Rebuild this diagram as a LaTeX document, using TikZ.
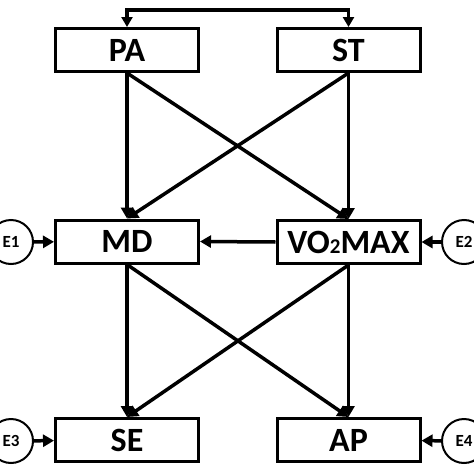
\documentclass[tikz,border=0pt]{standalone}
\usepackage{fontspec}
\setmainfont{Carlito}
\usetikzlibrary{arrows.meta}
\begin{document}
\begin{tikzpicture}[x=1pt,y=1pt,
  varbox/.style={draw,line width=3pt,minimum width=143pt,minimum height=43pt,inner sep=0pt,font=\fontsize{34}{34}\selectfont\bfseries},
  errc/.style={draw,circle,line width=2pt,minimum size=44pt,inner sep=0pt,font=\fontsize{17}{17}\selectfont\bfseries},
  conn/.style={line width=3.5pt,-{Triangle[length=11pt,width=12pt]}},
  conn2/.style={line width=3.5pt,{Triangle[length=10pt,width=11pt]}-{Triangle[length=10pt,width=11pt]}}
]
\useasboundingbox (0,0) rectangle (474,-474);
\node[varbox] (PA) at (127,-50) {PA};
\node[varbox] (ST) at (348.5,-50) {ST};
\node[varbox] (MD) at (127,-241.5) {MD};
\node[varbox] (VO) at (348.5,-242) {VO{\fontsize{21}{21}\selectfont 2}MAX};
\node[varbox] (SE) at (127,-440) {SE};
\node[varbox] (AP) at (348.5,-440) {AP};
\node[errc] (E1) at (11,-242) {E1};
\node[errc] (E2) at (464,-242) {E2};
\node[errc] (E3) at (11,-441) {E3};
\node[errc] (E4) at (464,-441) {E4};
\coordinate (T) at (0,-10);
\draw[conn2] (PA.north) |- (T -| ST.north) -- (ST.north);
\draw[conn] (PA.south) -- (MD.north);
\draw[conn] (PA.south) -- (VO.north);
\draw[conn] (ST.south) -- (MD.north);
\draw[conn] (ST.south) -- (VO.north);
\draw[conn] (VO.west) -- (MD.east);
\draw[conn] (MD.south) -- (SE.north);
\draw[conn] (MD.south) -- (AP.north);
\draw[conn] (VO.south) -- (SE.north);
\draw[conn] (VO.south) -- (AP.north);
\draw[conn] (E1) -- (MD);
\draw[conn] (E2) -- (VO);
\draw[conn] (E3) -- (SE);
\draw[conn] (E4) -- (AP);
\end{tikzpicture}
\end{document}
